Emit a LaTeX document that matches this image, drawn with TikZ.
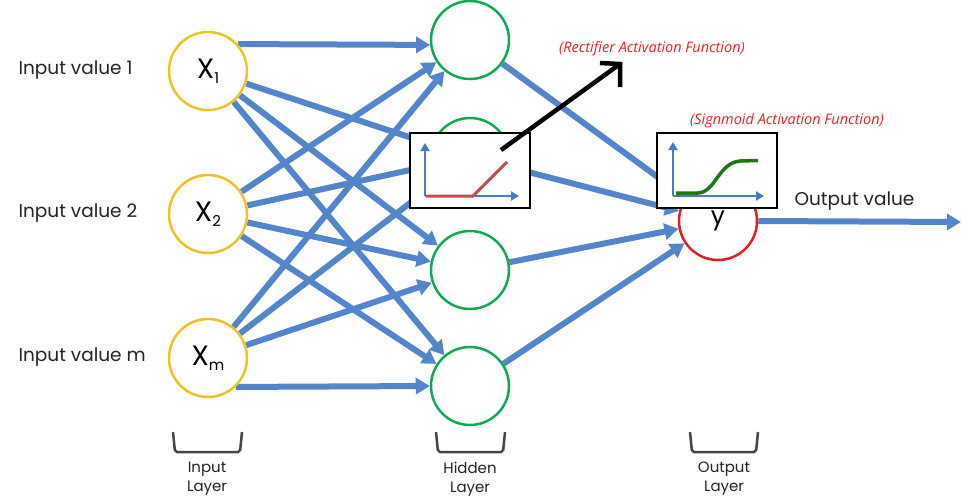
\documentclass[tikz,border=0pt]{standalone}
\usepackage{fontspec}
\setmainfont{Poppins}
\newfontfamily\notefont{Open Sans}
\usetikzlibrary{arrows.meta}
\definecolor{edgeblue}{RGB}{84,132,202}
\definecolor{nyellow}{RGB}{236,196,40}
\definecolor{ngreen}{RGB}{20,168,84}
\definecolor{nred}{RGB}{228,30,30}
\definecolor{relured}{RGB}{192,80,80}
\definecolor{siggreen}{RGB}{30,120,20}
\definecolor{axisblue}{RGB}{72,122,200}
\definecolor{txt}{RGB}{35,35,35}
\definecolor{braceg}{RGB}{70,70,70}
\definecolor{notered}{RGB}{240,30,40}
\pgfdeclarelayer{bg}
\pgfsetlayers{bg,main}
\begin{document}
\begin{tikzpicture}[x=1pt,y=-1pt,
  neuron/.style={circle,fill=white,line width=2.5pt,minimum size=78pt,inner sep=0pt},
  inneuron/.style={neuron,draw=nyellow,font=\fontsize{28}{28}\selectfont},
  hidneuron/.style={neuron,draw=ngreen},
  outneuron/.style={neuron,draw=nred,font=\fontsize{25}{25}\selectfont},
  conn/.style={draw=edgeblue,line width=6pt,-{Triangle[length=14pt,width=16pt]}},
  actbox/.style={draw=black,line width=2.5pt,fill=white,minimum width=120pt,minimum height=75pt,inner sep=0pt},
  axis/.style={draw=axisblue,line width=2.2pt,-{Triangle[length=8pt,width=9pt]}},
  bracket/.style={draw=braceg,line width=2.5pt,rounded corners=2pt},
  inlabel/.style={anchor=west,text=txt,font=\fontsize{18.5}{18.5}\selectfont},
  layerlabel/.style={align=center,text=txt,font=\fontsize{15}{19}\selectfont},
  note/.style={text=notered,font=\notefont\itshape\fontsize{14.5}{14.5}\selectfont}
]
\useasboundingbox (0,0) rectangle (962,498);

% input neurons
\node[inneuron] (x1) at (208,71) {X\raisebox{-0.3ex}{\fontsize{15}{15}\selectfont 1}};
\node[inneuron] (x2) at (208,214) {X\raisebox{-0.3ex}{\fontsize{15}{15}\selectfont 2}};
\node[inneuron] (xm) at (208,358) {X\raisebox{-0.3ex}{\fontsize{15}{15}\selectfont m}};

% hidden neurons
\node[hidneuron] (h1) at (470,40) {};
\node[hidneuron] (h2) at (470,157) {};
\node[hidneuron] (h3) at (470,270) {};
\node[hidneuron] (h4) at (470,386) {};

% output neuron
\node[outneuron] (y) at (718,221) {y};
\coordinate (outend) at (961,222);

% connections
\begin{pgfonlayer}{bg}
\draw[conn] (x1.42) -- (h1.187);
\foreach \j in {h2,h3,h4}
  \draw[conn] (x1) -- (\j);
\foreach \j in {h1,h2,h3,h4}
  \draw[conn] (x2) -- (\j);
\foreach \j in {h1,h2,h3}
  \draw[conn] (xm) -- (\j);
\draw[conn] (xm.-46) -- (h4.180);
\foreach \j in {h1,h2,h3,h4}
  \draw[conn] (\j) -- (y);
\draw[conn] (y.east) -- (outend);
\end{pgfonlayer}

% rectifier box
\node[actbox] (relubox) at (470,170.5) {};
\draw[axis] (425,196) -- (425,143);
\draw[axis] (425,196) -- (519,196);
\draw[relured,line width=3pt] (426,196) -- (473,196) -- (507,162);

% sigmoid box
\node[actbox] (sigbox) at (717,170.5) {};
\draw[axis] (673,196) -- (673,142);
\draw[axis] (673,196) -- (764,196);
\draw[siggreen,line width=3.5pt] (676,193) -- (698,193) .. controls (716,192) and (718,163) .. (740,161) -- (758,160.5);

% black pointer arrow
\coordinate (bs) at (501,150);
\coordinate (be) at (620,64);
\coordinate (bh1) at (600,63);
\coordinate (bh2) at (620,87);
\draw[line width=4.5pt] (bs) -- (be);
\draw[line width=4.5pt,line join=miter] (bh1) -- (be) -- (bh2);

% notes
\node[note] (rnote) at (652,49) {(Rectifier Activation Function)};
\node[note] (snote) at (787,121) {(Signmoid Activation Function)};

% labels
\node[inlabel] (l1) at (15,70) {Input value 1};
\node[inlabel] (l2) at (15,213) {Input value 2};
\node[inlabel] (l3) at (15,357) {Input value m};
\node[inlabel] (ov) at (791,201) {Output value};

% layer brackets
\draw[bracket] (173,432) -- (175,452) -- (240,452) -- (242,432);
\draw[bracket] (436,432) -- (438,452) -- (503,452) -- (505,432);
\draw[bracket] (690,432) -- (692,452) -- (756,452) -- (758,432);
\node[layerlabel] (il) at (207,479) {Input\\Layer};
\node[layerlabel] (hl) at (470,479) {Hidden\\Layer};
\node[layerlabel] (ol) at (724,479) {Output\\Layer};
\end{tikzpicture}
\end{document}
